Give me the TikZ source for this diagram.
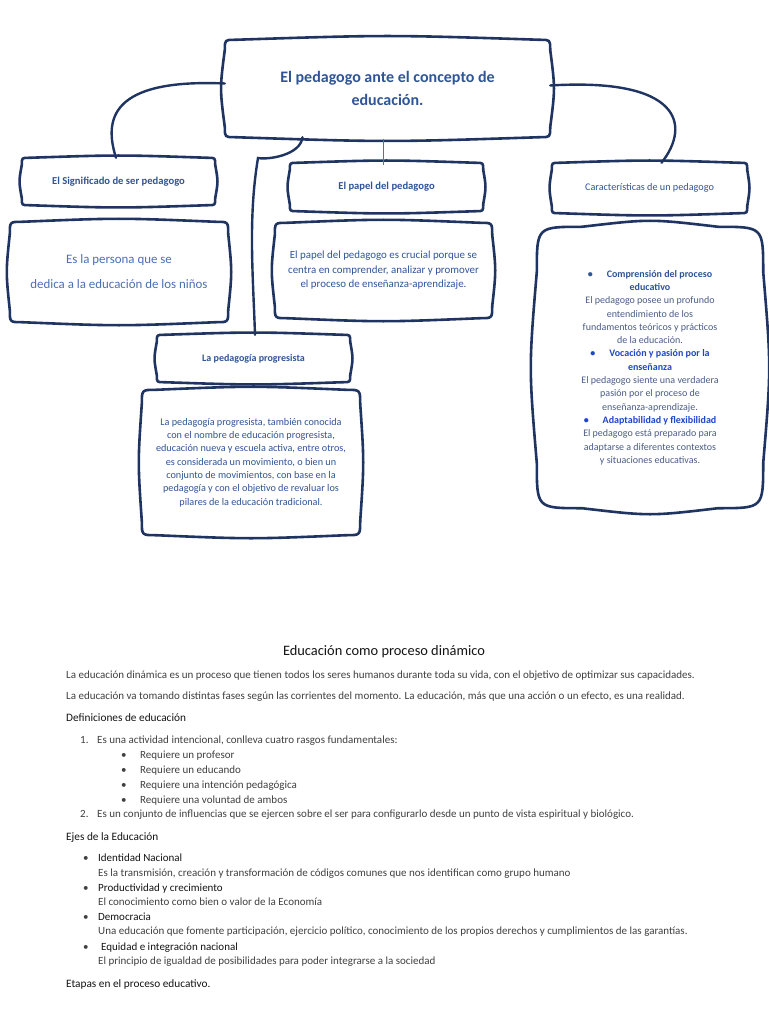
\documentclass[tikz,border=0pt]{standalone}
\usepackage{fontspec}
\setmainfont{Carlito}
\usetikzlibrary{calc}
\definecolor{navy}{HTML}{1F3461}
\definecolor{boxtext}{HTML}{2F5597}
\definecolor{lightboxtext}{HTML}{4A6FB5}
\definecolor{thinblue}{HTML}{4472C4}
\definecolor{bodygray}{HTML}{404040}
\definecolor{headblack}{HTML}{141414}
\definecolor{bulletblue}{HTML}{1F45C8}
\definecolor{caractext}{HTML}{4A5C86}
\newcommand\skbox[3]{%
\draw[boxline]
 ($(#1.north west)+(0,#2)$)
 .. controls (#1.north west) .. ($(#1.north west)+(#2,0)$)
 .. controls ($(#1.north)+(0,-#3)$) .. ($(#1.north east)+(-#2,0)$)
 .. controls (#1.north east) .. ($(#1.north east)+(0,#2)$)
 .. controls ($(#1.east)+(#3,0)$) .. ($(#1.south east)+(0,-#2)$)
 .. controls (#1.south east) .. ($(#1.south east)+(-#2,0)$)
 .. controls ($(#1.south)+(0,#3)$) .. ($(#1.south west)+(#2,0)$)
 .. controls (#1.south west) .. ($(#1.south west)+(0,-#2)$)
 .. controls ($(#1.west)+(-#3,0)$) .. cycle;}
\tikzset{
 boxline/.style={draw=navy, line width=2.6pt, line join=round, line cap=round},
 conn/.style={draw=navy, line width=2.4pt, line cap=round},
 thinconn/.style={draw=thinblue, line width=1.3pt},
 box/.style={inner sep=0pt, align=center, text=boxtext},
 body/.style={anchor=base west, inner sep=0pt, font=\fontsize{11}{12}\selectfont, text=bodygray},
 bhead/.style={anchor=base west, inner sep=0pt, font=\fontsize{11.3}{12}\selectfont, text=headblack},
 ehead/.style={anchor=base west, inner sep=0pt, font=\fontsize{11}{12}\selectfont, text=headblack},
}
\begin{document}
\begin{tikzpicture}[x=1pt,y=-1pt]
\fill[white] (0,0) rectangle (768,1024);
\useasboundingbox (0,0) rectangle (768,1024);

% boxes
\node[box, minimum width=325, minimum height=97, font=\bfseries\fontsize{16}{23}\selectfont] (main) at (387.5,88.5) {El pedagogo ante el concepto de\\educación.};
\node[box, minimum width=193, minimum height=47, font=\bfseries\fontsize{10.6}{12}\selectfont] (sig) at (118.5,181.5) {El Significado de ser pedagogo};
\node[box, minimum width=193, minimum height=48, font=\bfseries\fontsize{10.6}{12}\selectfont] (papel) at (386.5,187) {El papel del pedagogo};
\node[box, minimum width=195, minimum height=50, font=\fontsize{10.2}{12}\selectfont] (carac) at (649.5,188) {Características de un pedagogo};
\node[box, minimum width=218, minimum height=100, text=lightboxtext, font=\fontsize{12.9}{25}\selectfont] (persona) at (119,272) {Es la persona que se\\dedica a la educación de los niños};
\node[box, minimum width=217, minimum height=95, font=\fontsize{10.9}{14.5}\selectfont] (papeltext) at (383.5,270.5) {El papel del pedagogo es crucial porque se\\centra en comprender, analizar y promover\\el proceso de enseñanza-aprendizaje.};
\node[box, minimum width=193, minimum height=47, font=\bfseries\fontsize{10}{12}\selectfont] (prog) at (253.5,358.5) {La pedagogía progresista};
\node[box, minimum width=218, minimum height=145, font=\fontsize{10.2}{13.3}\selectfont] (progtext) at (251,462.5) {La pedagogía progresista, también conocida\\con el nombre de educación progresista,\\educación nueva y escuela activa, entre otros,\\es considerada un movimiento, o bien un\\conjunto de movimientos, con base en la\\pedagogía y con el objetivo de revaluar los\\pilares de la educación tradicional.};
\node[box, minimum width=226, minimum height=281, text=caractext, font=\fontsize{10}{13.3}\selectfont] (caractext) at (650,367.5) {%
{\bfseries\color{boxtext}•\hspace{1.4em}Comprensión del proceso}\\
{\bfseries\color{boxtext}educativo}\\
El pedagogo posee un profundo\\
entendimiento de los\\
fundamentos teóricos y prácticos\\
de la educación.\\
{\bfseries\color{bulletblue}•\hspace{1.4em}Vocación y pasión por la}\\
{\bfseries\color{bulletblue}enseñanza}\\
El pedagogo siente una verdadera\\
pasión por el proceso de\\
enseñanza-aprendizaje.\\
{\bfseries\color{bulletblue}•\hspace{1.4em}Adaptabilidad y flexibilidad}\\
El pedagogo está preparado para\\
adaptarse a diferentes contextos\\
y situaciones educativas.};

\skbox{main}{10}{5}
\skbox{sig}{7}{3}
\skbox{papel}{7}{3}
\skbox{carac}{7}{3}
\skbox{persona}{12}{4}
\skbox{papeltext}{12}{4}
\skbox{prog}{7}{3}
\skbox{progtext}{14}{4}
\skbox{caractext}{45}{8}

% connectors
\draw[conn] ([yshift=5pt]main.west) .. controls +(-115,-5) and +(-12,-38) .. ([xshift=-2.5pt]sig.north);
\draw[conn] ([yshift=3pt]main.east) .. controls +(130,-8) and +(30,-38) .. ([xshift=12pt]carac.north);
\coordinate (mid) at (258,158);
\draw[conn] ([xshift=-85pt]main.south) .. controls +(-2,18) and +(10,2) .. (mid) .. controls +(-10,60) and +(-2,-60) .. ([xshift=1.5pt]prog.north);
\draw[thinconn] ([xshift=-4pt,yshift=-2pt]main.south) -- ([xshift=-4pt,yshift=-2pt]main.south |- papel.north);

% lower text
\node[anchor=base, inner sep=0pt, font=\fontsize{14.4}{16}\selectfont, text=headblack] (title) at (384,655) {Educación como proceso dinámico};
\node[body] (p1) at (66,678) {La educación dinámica es un proceso que tienen todos los seres humanos durante toda su vida, con el objetivo de optimizar sus capacidades.};
\node[body] (p2) at (66,699) {La educación va tomando distintas fases según las corrientes del momento. La educación, más que una acción o un efecto, es una realidad.};
\node[bhead] (def) at (66,721) {Definiciones de educación};
\node[body] (n1) at (80,743) {1.};
\node[body] (d1) at (97,743) {Es una actividad intencional, conlleva cuatro rasgos fundamentales:};
\node[body] (b1) at (121,758) {•};
\node[body] (r1) at (140,758) {Requiere un profesor};
\node[body] (b2) at (121,773) {•};
\node[body] (r2) at (140,773) {Requiere un educando};
\node[body] (b3) at (121,788) {•};
\node[body] (r3) at (140,788) {Requiere una intención pedagógica};
\node[body] (b4) at (121,803) {•};
\node[body] (r4) at (140,803) {Requiere una voluntad de ambos};
\node[body] (n2) at (80,817) {2.};
\node[body] (d2) at (97,817) {Es un conjunto de influencias que se ejercen sobre el ser para configurarlo desde un punto de vista espiritual y biológico.};
\node[bhead] (ejes) at (66,840) {Ejes de la Educación};
\node[body] (e1b) at (83,861) {•};
\node[ehead] (e1) at (98,861) {Identidad Nacional};
\node[body] (e1d) at (98,876) {Es la transmisión, creación y transformación de códigos comunes que nos identifican como grupo humano};
\node[body] (e2b) at (83,891) {•};
\node[ehead] (e2) at (98,891) {Productividad y crecimiento};
\node[body] (e2d) at (98,905) {El conocimiento como bien o valor de la Economía};
\node[body] (e3b) at (83,920) {•};
\node[ehead] (e3) at (98,920) {Democracia};
\node[body] (e3d) at (98,934) {Una educación que fomente participación, ejercicio político, conocimiento de los propios derechos y cumplimientos de las garantías.};
\node[body] (e4b) at (83,950) {•};
\node[ehead] (e4) at (101,950) {Equidad e integración nacional};
\node[body] (e4d) at (98,964) {El principio de igualdad de posibilidades para poder integrarse a la sociedad};
\node[bhead] (etapas) at (66,987) {Etapas en el proceso educativo.};
\end{tikzpicture}
\end{document}
